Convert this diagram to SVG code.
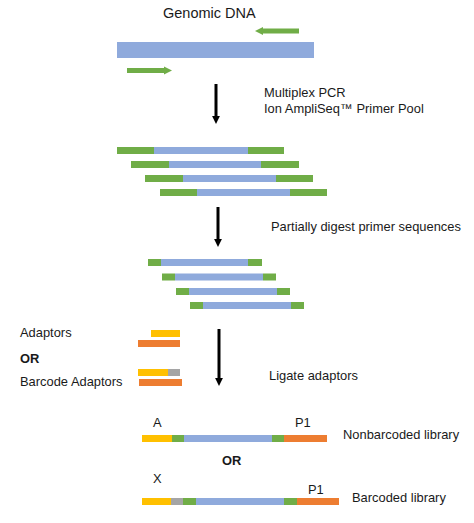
<svg xmlns="http://www.w3.org/2000/svg" width="474" height="523" viewBox="0 0 474 523">
<style>
text{font-family:"Liberation Sans",Arial,sans-serif;font-size:12.9px;fill:#1a1a1a}
.b{font-weight:bold}
.t{font-size:14.5px}
.g{fill:#70AD47}.u{fill:#8FAADC}.y{fill:#FFC000}.o{fill:#ED7D31}.k{fill:#A5A5A5}
.ar{stroke:#000;stroke-width:3;fill:none}
</style>
<defs>
<marker id="ah" viewBox="0 0 10 10" refX="5" refY="5" markerWidth="2.6" markerHeight="2.6" orient="auto" markerUnits="strokeWidth">
<path d="M0,0 L10,5 L0,10 z" fill="#000"/>
</marker>
</defs>
<rect width="474" height="523" fill="#fff"/>

<g id="genomic">
<text class="t" x="163" y="18">Genomic DNA</text>
<rect class="u" x="117" y="42" width="197" height="16"/>
<path class="g" d="M299,28.5 L263,28.5 L263,27 L255,31 L263,35 L263,33.5 L299,33.5 z"/>
<path class="g" d="M127,68 L164,68 L164,66.5 L172,70.5 L164,74.5 L164,73 L127,73 z"/>
</g>

<g id="connectors">
<line class="ar" x1="216" y1="84" x2="216" y2="120" marker-end="url(#ah)"/>
<line class="ar" x1="218" y1="207" x2="218" y2="243" marker-end="url(#ah)"/>
<line class="ar" x1="219" y1="329" x2="219" y2="382" marker-end="url(#ah)"/>
</g>

<g id="step1-label">
<text x="264" y="97">Multiplex PCR</text>
<text x="264" y="113">Ion AmpliSeq™ Primer Pool</text>
</g>

<g id="amplicons">
<rect class="g" x="117" y="147" width="37" height="7"/><rect class="u" x="154" y="147" width="94" height="7"/><rect class="g" x="248" y="147" width="36" height="7"/>
<rect class="g" x="131" y="161" width="38" height="7"/><rect class="u" x="169" y="161" width="92" height="7"/><rect class="g" x="261" y="161" width="38" height="7"/>
<rect class="g" x="145" y="175" width="38" height="7"/><rect class="u" x="183" y="175" width="93" height="7"/><rect class="g" x="276" y="175" width="37" height="7"/>
<rect class="g" x="160" y="189" width="37" height="7"/><rect class="u" x="197" y="189" width="93" height="7"/><rect class="g" x="290" y="189" width="37" height="7"/>
</g>

<g id="step2-label">
<text x="271" y="231">Partially digest primer sequences</text>
</g>

<g id="digested">
<rect class="g" x="148" y="259" width="13" height="7"/><rect class="u" x="161" y="259" width="87" height="7"/><rect class="g" x="248" y="259" width="14" height="7"/>
<rect class="g" x="162" y="273.5" width="13" height="7"/><rect class="u" x="175" y="273.5" width="88" height="7"/><rect class="g" x="263" y="273.5" width="13" height="7"/>
<rect class="g" x="176" y="288" width="13" height="7"/><rect class="u" x="189" y="288" width="88" height="7"/><rect class="g" x="277" y="288" width="13" height="7"/>
<rect class="g" x="190" y="302" width="13" height="7"/><rect class="u" x="203" y="302" width="88" height="7"/><rect class="g" x="291" y="302" width="13" height="7"/>
</g>

<g id="adaptors">
<text x="20" y="337">Adaptors</text>
<rect class="y" x="151" y="330" width="29" height="7"/>
<rect class="o" x="138" y="340" width="42" height="7"/>
<text class="b" x="20" y="363">OR</text>
<text x="20" y="386">Barcode Adaptors</text>
<rect class="y" x="138" y="369" width="30" height="7"/><rect class="k" x="168" y="369" width="12" height="7"/>
<rect class="o" x="139" y="379" width="43" height="7"/>
</g>

<g id="step3-label">
<text x="269" y="380">Ligate adaptors</text>
</g>

<g id="nonbarcoded">
<text x="153" y="427">A</text>
<text x="295" y="427">P1</text>
<rect class="y" x="142" y="435" width="30" height="7"/><rect class="g" x="172" y="435" width="12" height="7"/><rect class="u" x="184" y="435" width="88" height="7"/><rect class="g" x="272" y="435" width="12" height="7"/><rect class="o" x="284" y="435" width="43" height="7"/>
<text x="343" y="439">Nonbarcoded library</text>
</g>

<text class="b" x="222" y="465">OR</text>

<g id="barcoded">
<text x="153" y="483">X</text>
<text x="308" y="494">P1</text>
<rect class="y" x="142" y="498" width="29" height="7"/><rect class="k" x="171" y="498" width="12" height="7"/><rect class="g" x="183" y="498" width="13" height="7"/><rect class="u" x="196" y="498" width="88" height="7"/><rect class="g" x="284" y="498" width="13" height="7"/><rect class="o" x="297" y="498" width="42" height="7"/>
<text x="352" y="502">Barcoded library</text>
</g>
</svg>
